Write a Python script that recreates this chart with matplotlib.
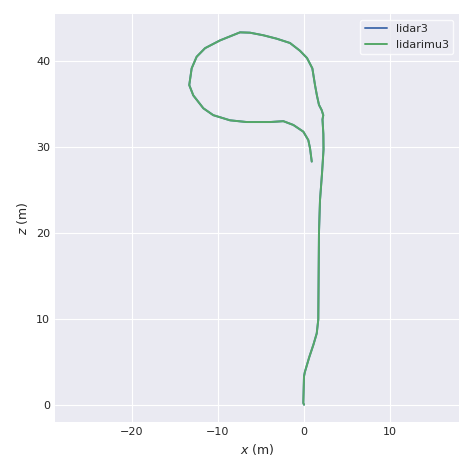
import matplotlib
matplotlib.use('Agg')
import matplotlib.pyplot as plt

# trajectory points (x, z in metres)
x_lidar3 = [0.0, -0.08, 0.0, 0.1, 0.6, 1.1, 1.48, 1.66, 1.7, 1.74, 1.86, 2.1, 2.27,
            2.25, 2.15, 2.24, 2.05, 1.74, 1.5, 1.28, 0.97, 0.35, -0.47, -1.63, -3.17,
            -4.73, -6.28, -7.44, -9.77, -11.5, -12.48, -13.06, -13.34, -12.87,
            -11.7, -10.55, -8.6, -6.66, -3.95, -2.4, -1.24, -0.08, 0.5, 0.7, 0.9]
z_lidar3 = [0.0, 0.2, 3.3, 3.8, 5.5, 7.0, 8.3, 9.9, 15.0, 20.0, 23.8, 27.0, 29.7,
            31.5, 33.2, 33.7, 34.3, 34.9, 36.0, 37.2, 39.15, 40.35, 41.2, 42.1, 42.6,
            43.0, 43.3, 43.34, 42.4, 41.5, 40.5, 39.15, 37.2, 36.0,
            34.5, 33.7, 33.1, 32.9, 32.9, 33.0, 32.56, 31.78, 30.8, 29.85, 28.3]
x_lidarimu3 = list(x_lidar3)
z_lidarimu3 = list(z_lidar3)

plt.style.use('seaborn-v0_8-darkgrid')
plt.rcParams['font.family'] = ['DejaVu Sans']

fig = plt.figure(figsize=(4.74, 4.74), dpi=100)
ax = fig.add_axes([0.116, 0.110, 0.852, 0.860])

ax.plot(x_lidar3, z_lidar3, color='#4C72B0', lw=1.4, label='lidar3')
ax.plot(x_lidarimu3, z_lidarimu3, color='#55A868', lw=1.4, label='lidarimu3')

ax.set_xlim(-28.95, 18.0)
ax.set_ylim(-2.0, 45.45)
ax.set_xticks([-20, -10, 0, 10])
ax.set_yticks([0, 10, 20, 30, 40])
ax.tick_params(labelsize=8, colors='.15')
ax.set_xlabel('$x$ (m)', fontsize=9, color='.15')
ax.set_ylabel('$z$ (m)', fontsize=9, color='.15')
ax.legend(loc='upper right', fontsize=8, frameon=True, facecolor='#EAEAF2',
          edgecolor='white')

plt.savefig('out.png', dpi=100)
